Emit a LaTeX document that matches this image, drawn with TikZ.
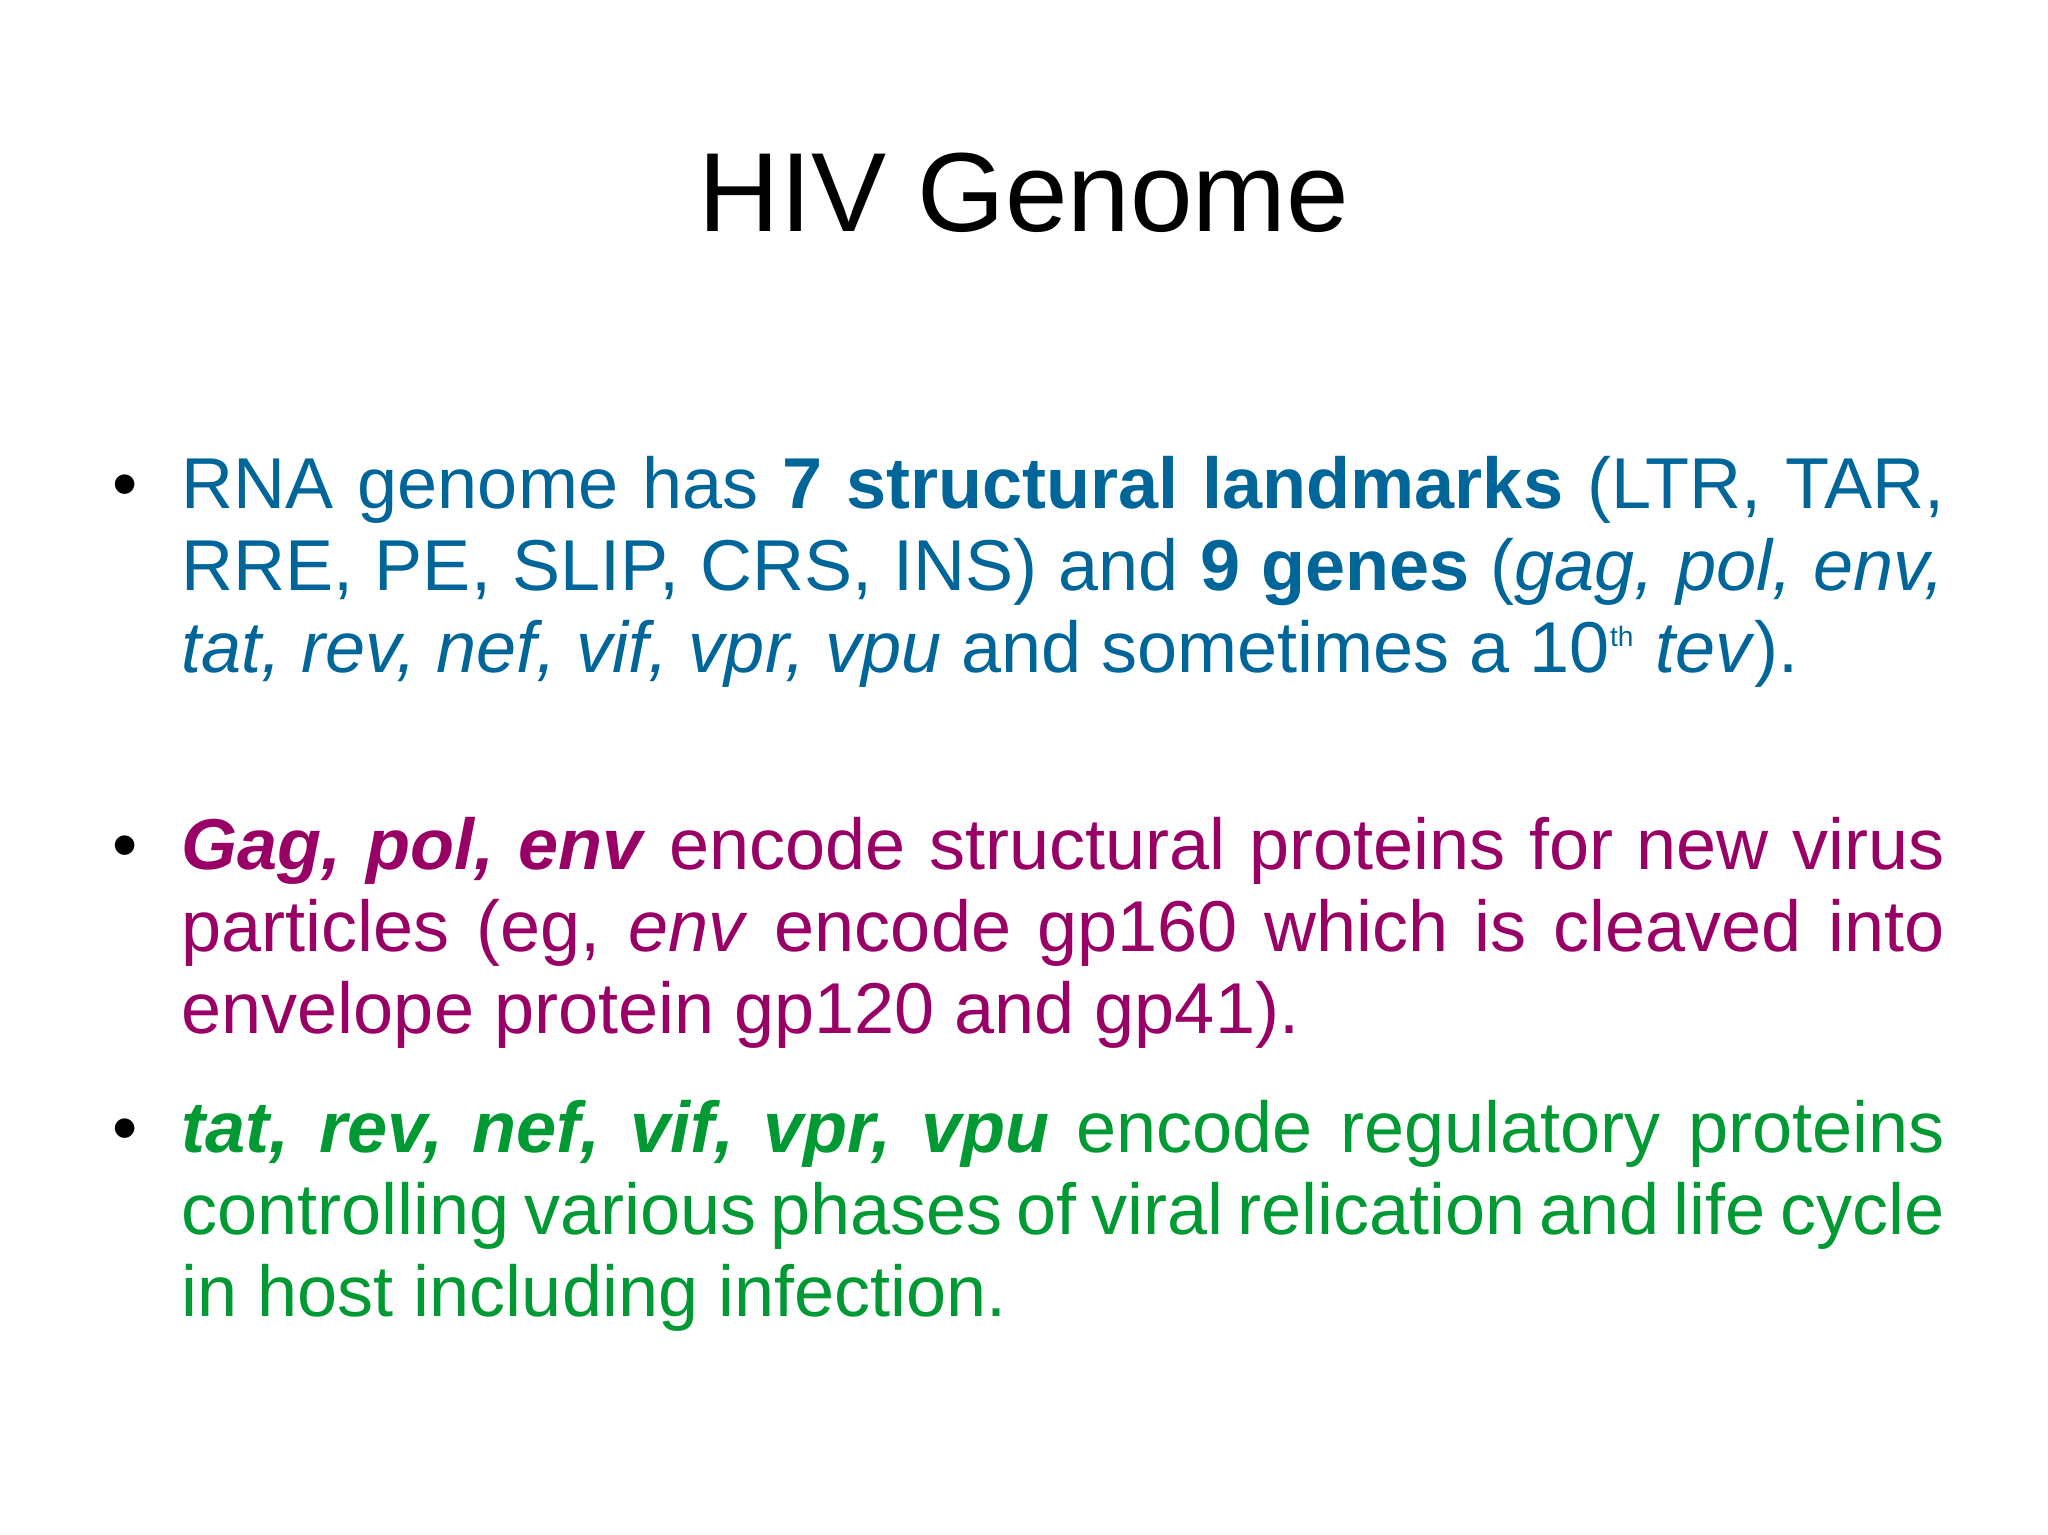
\documentclass[tikz,border=0pt]{standalone}
\usepackage{fontspec}
\setmainfont{Liberation Sans}
\usetikzlibrary{positioning}
\definecolor{rnablue}{RGB}{0,102,153}
\definecolor{genemag}{RGB}{153,0,102}
\definecolor{reggreen}{RGB}{0,153,51}
\tikzset{
  para/.style={anchor=base west,inner sep=0pt,text width=176.3mm,align=justify,
               font=\fontsize{20.5}{23.3}\selectfont},
  dot/.style={anchor=base,inner sep=0pt,font=\fontsize{20.5}{23.3}\selectfont},
}
\begin{document}
\hyphenpenalty=10000
\exhyphenpenalty=10000
\begin{tikzpicture}
  \useasboundingbox (0,0) rectangle (20.48,15.35);
  % title
  \node[anchor=base,inner sep=0pt,font=\fontsize{32}{36}\selectfont] (title) at (10.24,13.03) {HIV Genome};

  % bullets
  \node[dot] (b1) at (1.25,10.26) {•};
  \node[dot] (b2) at (1.25,6.65)  {•};
  \node[dot] (b3) at (1.25,3.82)  {•};

  % paragraphs
  \node[para,text=rnablue] (p1) at (1.81,10.26)
    {RNA genome has \textbf{7 structural landmarks} (LTR, TAR, RRE, PE, SLIP, CRS, INS) and \textbf{9 genes} (\textit{gag, pol, env, tat, rev, nef, vif, vpr, vpu} and sometimes a 10\textsuperscript{\footnotesize th} \textit{tev}).};
  \node[para,text=genemag] (p2) at (1.81,6.65)
    {\textbf{\textit{Gag, pol, env}} encode structural proteins for new virus particles (eg, \textit{env} encode gp160 which is cleaved into envelope protein gp120 and gp41).};
  \node[para,text=reggreen] (p3) at (1.81,3.82)
    {\textbf{\textit{tat, rev, nef, vif, vpr, vpu}} encode regulatory proteins controlling various phases of viral relication and life cycle in host including infection.};
\end{tikzpicture}
\end{document}
